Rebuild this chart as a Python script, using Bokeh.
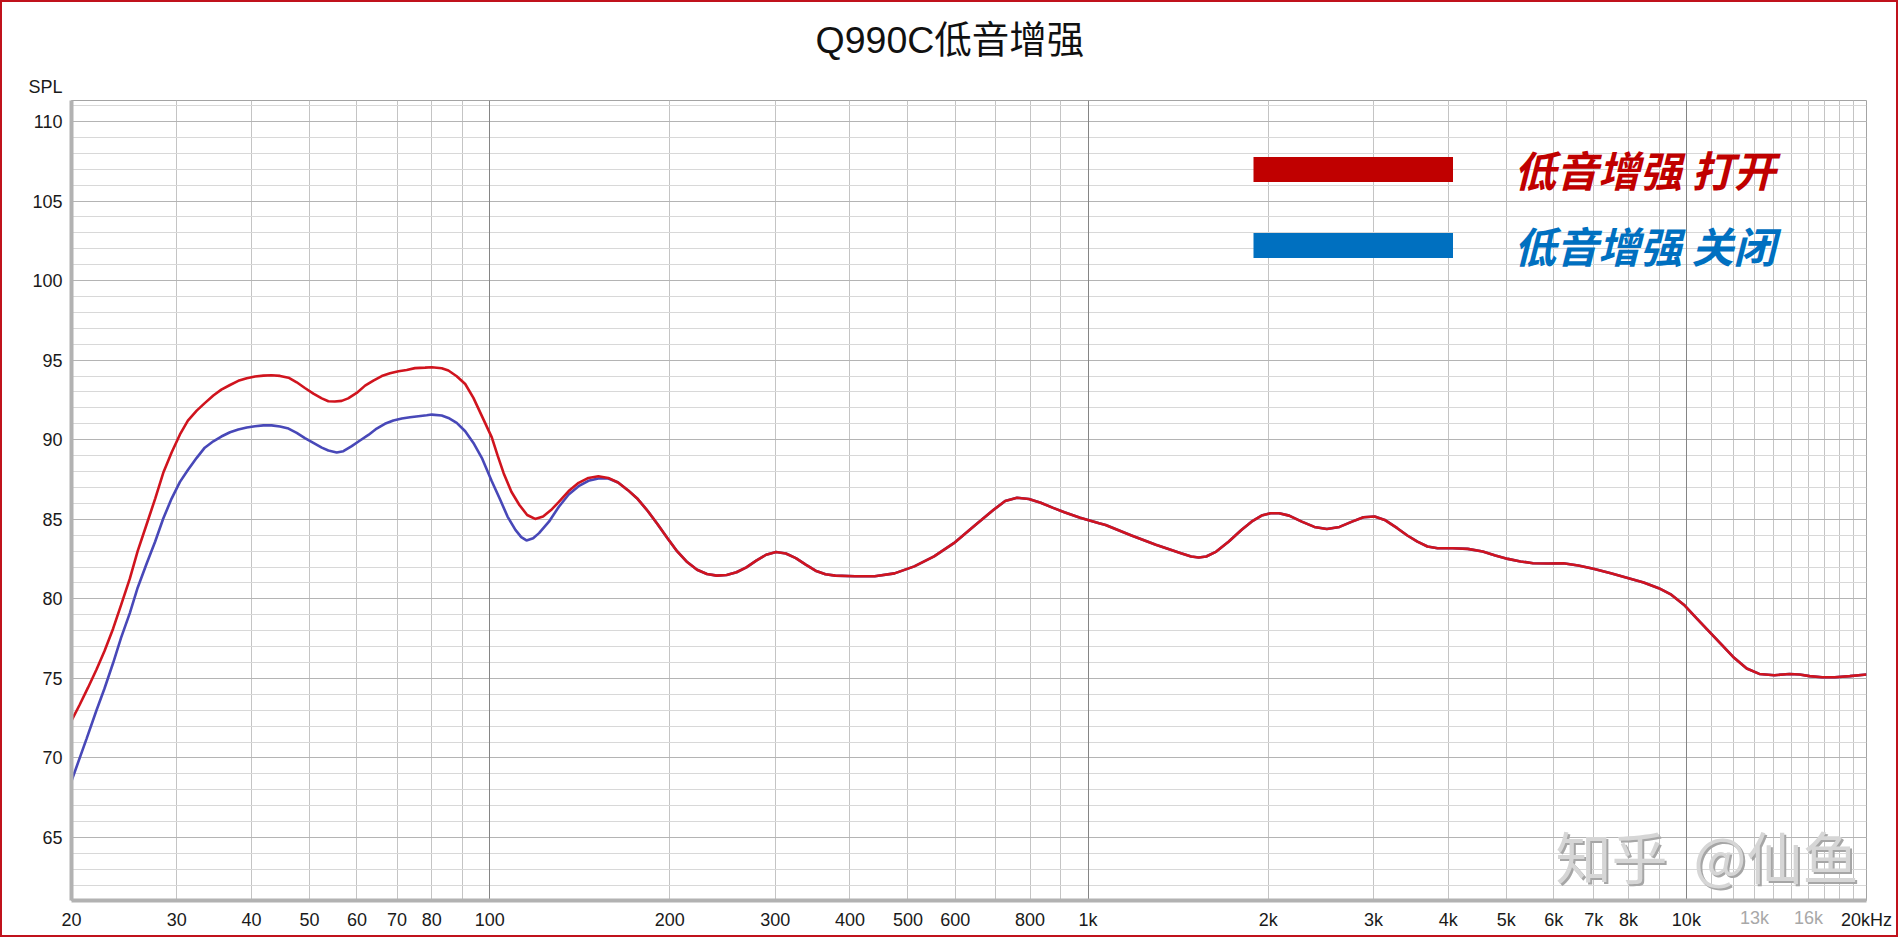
from bokeh.plotting import figure
from bokeh.models import FixedTicker, Grid, Label, Legend, LegendItem, LogAxis, Title
from bokeh.embed import file_html
from bokeh.resources import INLINE

# ---- data ----
freq_on = [20, 20.65, 21.3, 22.02, 22.7, 23.48, 24.2, 25.04, 25.8, 26.7, 27.6, 28.47, 29.4, 30.36, 31.3,
           32.38, 33.4, 34.52, 35.6, 36.81, 38.0, 39.26, 40.53, 41.85, 43.2, 44.62, 46.1, 47.58, 49.1, 50.73,
           52.4, 53.74, 55.1, 56.57, 58.0, 59.93, 61.9, 63.91, 66.0, 68.13, 70.4, 72.65, 75.0, 77.97, 80.0,
           83.13, 85.3, 88.07, 91.0, 93.92, 97.0, 100.8, 103.1, 105.5, 108.7, 112.1, 115.5, 119.1, 122.8, 126.6,
           130.5, 135.5, 140.8, 146.2, 151.9, 157.8, 163.9, 170.2, 176.8, 183.7, 190.8, 198.2, 205.8, 213.8,
           222.1, 230.7, 239.6, 248.9, 258.5, 268.5, 278.9, 289.7, 301.0, 312.6, 324.8, 337.4, 350.4, 364.0,
           378.1, 407.9, 440.1, 474.9, 512.4, 552.9, 596.6, 643.7, 694.5, 726.9, 760.8, 796.2, 833.4, 872.2,
           912.9, 970.0, 1043.5, 1070, 1179, 1298, 1430, 1487, 1531, 1576, 1638, 1719, 1804, 1876, 1950, 2018,
           2086, 2168, 2276, 2389, 2507, 2632, 2762, 2886, 3013, 3132, 3287, 3417, 3552, 3692, 3838, 4068,
           4310, 4567, 4794, 5031, 5282, 5542, 5873, 6226, 6597, 6991, 7478, 8006, 8483, 8991, 9436, 9903,
           10394, 10909, 11451, 12016, 12615, 13240, 14032, 14870, 15458, 16068, 16864, 17700, 18758, 20000]
spl_on = [72.35, 73.36, 74.4, 75.56, 76.7, 78.14, 79.6, 81.28, 83.0, 84.67, 86.3, 87.92, 89.2, 90.33, 91.2,
          91.83, 92.3, 92.78, 93.15, 93.44, 93.7, 93.86, 93.97, 94.03, 94.05, 94.01, 93.9, 93.61, 93.25, 92.9,
          92.6, 92.42, 92.4, 92.44, 92.6, 92.94, 93.4, 93.72, 94.0, 94.18, 94.3, 94.38, 94.5, 94.53, 94.55,
          94.49, 94.35, 93.99, 93.5, 92.63, 91.5, 90.15, 89.0, 87.9, 86.73, 85.9, 85.27, 85.02, 85.17, 85.58,
          86.1, 86.77, 87.29, 87.6, 87.71, 87.6, 87.31, 86.83, 86.27, 85.52, 84.69, 83.81, 82.98, 82.31,
          81.83, 81.56, 81.46, 81.5, 81.67, 81.98, 82.4, 82.77, 82.94, 82.85, 82.56, 82.15, 81.77, 81.54,
          81.46, 81.42, 81.42, 81.6, 82.04, 82.67, 83.5, 84.54, 85.58, 86.15, 86.35, 86.27, 86.04, 85.73,
          85.44, 85.1, 84.75, 84.64, 84.0, 83.4, 82.87, 82.66, 82.6, 82.66, 82.97, 83.6, 84.33, 84.85, 85.23, 85.38,
          85.38, 85.23, 84.85, 84.52, 84.39, 84.52, 84.85, 85.13, 85.17, 84.96, 84.44, 83.98, 83.6, 83.29, 83.18, 83.18,
          83.14, 82.97, 82.72, 82.51, 82.35, 82.24, 82.22, 82.24, 82.1, 81.89, 81.61, 81.3, 81.03, 80.67, 80.26, 79.63,
          78.79, 77.96, 77.12, 76.29, 75.62, 75.28, 75.2, 75.28, 75.24, 75.14, 75.07, 75.07, 75.14, 75.24]

# "off" curve: differs below ~170 Hz, identical to the "on" curve above that
freq_off_low = [20, 21.19, 22.02, 22.7, 23.48, 24.2, 25.04, 25.8, 26.7, 27.6, 28.47, 29.4, 30.36, 31.3, 32.38,
                33.4, 34.52, 35.6, 36.81, 38.0, 39.26, 40.53, 41.85, 43.2, 44.62, 46.1, 47.58, 49.1, 50.73, 52.4,
                53.74, 55.5, 56.94, 58.8, 60.7, 62.7, 64.73, 66.8, 69.02, 71.3, 73.59, 76.0, 78.47, 80.0, 83.13,
                85.3, 88.07, 91.0, 93.92, 97.0, 100.8, 103.9, 107.1, 110.4, 112.9, 115.2, 118.2, 120.9, 125.6,
                130.5, 135.5, 140.8, 146.2, 151.9, 157.8, 163.9]
spl_off_low = [68.55, 71.2, 73.0, 74.35, 75.98, 77.55, 79.12, 80.7, 82.2, 83.6, 85.05, 86.3, 87.35, 88.1, 88.86,
               89.5, 89.9, 90.2, 90.47, 90.64, 90.77, 90.85, 90.9, 90.9, 90.83, 90.7, 90.43, 90.1, 89.8, 89.5,
               89.32, 89.2, 89.28, 89.6, 89.95, 90.3, 90.7, 91.0, 91.21, 91.33, 91.41, 91.48, 91.54, 91.58, 91.52,
               91.37, 91.06, 90.53, 89.8, 88.86, 87.39, 86.31, 85.17, 84.33, 83.88, 83.67, 83.81, 84.13, 84.85,
               85.79, 86.56, 87.08, 87.42, 87.56, 87.56, 87.31]
shared_from = 170.2

x_label_ticks = [20, 30, 40, 50, 60, 70, 80, 100, 200, 300, 400, 500, 600, 800, 1000,
                 2000, 3000, 4000, 5000, 6000, 7000, 8000, 10000, 20000]
x_label_text = ["20", "30", "40", "50", "60", "70", "80", "100", "200", "300", "400", "500", "600", "800", "1k",
                "2k", "3k", "4k", "5k", "6k", "7k", "8k", "10k", "20kHz"]
x_faint_ticks = [13000, 16000]
x_faint_text = ["13k", "16k"]
x_minor_grid = [30, 40, 50, 60, 70, 80, 90, 200, 300, 400, 500, 600, 700, 800, 900,
                2000, 3000, 4000, 5000, 6000, 7000, 8000, 9000,
                11000, 12000, 13000, 14000, 15000, 16000, 17000, 18000, 19000]
x_major_grid = [100, 1000, 10000]
y_ticks = [65, 70, 75, 80, 85, 90, 95, 100, 105, 110]
y_minor_grid = list(range(62, 112))

title_text = "Q990C低音增强"
y_unit_text = "SPL"
label_on = "低音增强 打开"
label_off = "低音增强 关闭"
watermark = ["知乎", "@仙鱼"]

i0 = freq_on.index(shared_from)
freq_off = freq_off_low + freq_on[i0:]
spl_off = spl_off_low + spl_on[i0:]

TICK_FONT = "Liberation Sans"
Y0, Y1 = 61.04, 111.32
STANDOFF = 9

p = figure(width=1898, height=937, x_axis_type="log", x_range=(20, 20000), y_range=(Y0, Y1),
           output_backend="svg", toolbar_location=None,
           min_border_left=69, min_border_right=34, min_border_top=98, min_border_bottom=39)
p.styles = {"border": "2px solid #c0121c"}
p.background_fill_color = "white"
p.border_fill_color = "white"
p.outline_line_color = "#a4a4a4"
p.outline_line_width = 1

# title (outermost in the 'above' panel)
p.title.text = title_text
p.title.align = "left"
p.title.offset = 744
p.title.text_font = "Liberation Sans, Noto Sans CJK SC"
p.title.text_font_size = "37.5px"
p.title.text_font_style = "normal"
p.title.text_color = "#111111"
p.title.standoff = 20

# "SPL" unit label above the y axis
p.add_layout(Title(text=y_unit_text, align="left", offset=-43, standoff=8,
                   text_font=TICK_FONT, text_font_size="18px", text_font_style="normal",
                   text_color="#1a1a1a"), "above")

# grids
p.xgrid.ticker = FixedTicker(ticks=x_minor_grid)
p.xgrid.grid_line_color = "#c4c4c4"
p.ygrid.ticker = FixedTicker(ticks=y_minor_grid)
p.ygrid.grid_line_color = "#d8d8d8"
p.add_layout(Grid(dimension=1, ticker=FixedTicker(ticks=y_ticks), grid_line_color="#b4b4b4"))
p.add_layout(Grid(dimension=0, ticker=FixedTicker(ticks=x_major_grid), grid_line_color="#858585"))


def style_axis(ax, color="#1a1a1a", line=True, standoff=STANDOFF):
    ax.major_tick_line_color = None
    ax.minor_tick_line_color = None
    ax.major_tick_out = 0
    ax.major_tick_in = 0
    ax.minor_tick_out = 0
    ax.minor_tick_in = 0
    ax.axis_line_color = "#b2b2b2" if line else None
    ax.axis_line_width = 4
    ax.major_label_text_font = TICK_FONT
    ax.major_label_text_font_size = "18px"
    ax.major_label_text_color = color
    ax.major_label_standoff = standoff


style_axis(p.xaxis[0])
style_axis(p.yaxis[0])
p.xaxis.ticker = FixedTicker(ticks=x_label_ticks, minor_ticks=[])
p.xaxis.major_label_overrides = dict(zip(x_label_ticks, x_label_text))
p.yaxis.ticker = FixedTicker(ticks=y_ticks, minor_ticks=[])

# grey 13k / 16k labels: a second log axis stacked below, pulled up to the same row
faint = LogAxis(ticker=FixedTicker(ticks=x_faint_ticks, minor_ticks=[]),
                major_label_overrides=dict(zip(x_faint_ticks, x_faint_text)))
style_axis(faint, color="#a8a8a8", line=False, standoff=-25)
p.add_layout(faint, "below")

# watermark
for wx, wt in zip([6044, 10282], watermark):
    p.add_layout(Label(x=wx, y=63.9, text=wt, text_align="left", text_baseline="middle",
                       x_offset=2, y_offset=-2,
                       text_font="Noto Sans CJK SC", text_font_size="56px", text_color="#a6a6a6"))
    p.add_layout(Label(x=wx, y=63.9, text=wt, text_align="left", text_baseline="middle",
                       text_font="Noto Sans CJK SC", text_font_size="56px", text_color="#d6d6d6"))

# curves
p.line(freq_off, spl_off, line_color="#4848b8", line_width=2.6)
p.line(freq_on, spl_on, line_color="#d0141e", line_width=2.6)

# legend (two separate legends so each label has its own colour)
nan = float("nan")
r_on = p.line([nan], [nan], line_color="#c00000", line_width=25, line_cap="butt")
r_off = p.line([nan], [nan], line_color="#0070c0", line_width=25, line_cap="butt")
for rend, lab, col, vy in [(r_on, label_on, "#c00000", 701), (r_off, label_off, "#0070c0", 625)]:
    lg = Legend(items=[LegendItem(label=lab, renderers=[rend])], location=(1182, vy),
                glyph_width=200, glyph_height=56, label_height=56, label_standoff=61,
                label_text_font="Noto Sans CJK SC", label_text_font_size="42px",
                label_text_font_style="bold italic", label_text_color=col,
                padding=0, margin=0, border_line_color=None, background_fill_alpha=0)
    p.add_layout(lg)

open("out.html", "w").write(file_html(p, INLINE))
